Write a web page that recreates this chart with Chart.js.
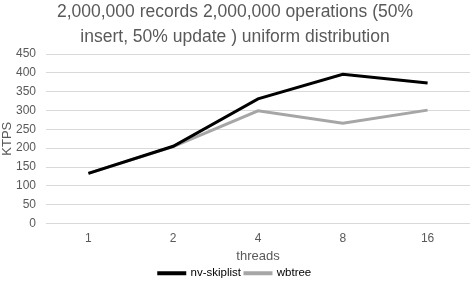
<!DOCTYPE html>
<html>
<head>
<meta charset="utf-8">
<script src="https://cdn.jsdelivr.net/npm/chart.js@4/dist/chart.umd.min.js"></script>
<style>
  html, body { margin: 0; padding: 0; background: #fff; }
  #wrap { width: 474px; height: 286px; }
</style>
</head>
<body>
<div id="wrap"><canvas id="myChart"></canvas></div>
<script>
var threads = ["1", "2", "4", "8", "16"];
var nvSkiplist = [133, 205, 331, 396, 373];
var wbtree = [133, 204, 299, 266, 301];
var yTicks = [0, 50, 100, 150, 200, 250, 300, 350, 400, 450];

var grey = "#595959";
var font = "'Liberation Sans', Arial, sans-serif";

var ctx = document.getElementById("myChart");
var myChart = new Chart(ctx, {
    type: 'line',
    data: {
        labels: threads,
        datasets: [{
                label: "nv-skiplist",
                borderColor: "#000000",
                backgroundColor: "#000000",
                borderWidth: 3,
                data: nvSkiplist,
                pointRadius: 0,
                tension: 0,
                fill: false
            }, {
                label: "wbtree",
                borderColor: "#a6a6a6",
                backgroundColor: "#a6a6a6",
                borderWidth: 3,
                data: wbtree,
                pointRadius: 0,
                tension: 0,
                fill: false
            }
        ]
    },
    options: {
        responsive: true,
        maintainAspectRatio: false,
        animation: false,
        layout: {padding: {left: 0, right: 4, top: 0, bottom: -3}},
        plugins: {
            title: {
                display: true,
                text: ['2,000,000 records 2,000,000 operations (50%', 'insert, 50% update ) uniform distribution'],
                color: grey,
                font: {family: font, size: 17.5, weight: 'normal', lineHeight: 1.4},
                padding: {top: 0, bottom: 5}
            },
            legend: {
                display: true,
                position: 'bottom',
                labels: {
                    color: "#000",
                    font: {family: font, size: 11.5},
                    boxWidth: 26,
                    boxHeight: 1,
                    padding: 4
                }
            },
            tooltip: {enabled: false}
        },
        scales: {
            x: {
                offset: true,
                afterFit: function (axis) { axis.height = 40; },
                grid: {display: false, drawTicks: false},
                border: {display: false},
                ticks: {color: grey, font: {family: font, size: 12}, padding: 8},
                title: {display: true, text: 'threads', color: grey, font: {family: font, size: 13}, padding: {top: 0, bottom: -1}}
            },
            y: {
                min: 0,
                max: 450,
                afterBuildTicks: function (axis) {
                    axis.ticks = yTicks.map(function (v) { return {value: v}; });
                },
                afterFit: function (axis) { axis.width = 46; },
                grid: {color: "#d9d9d9", drawTicks: false},
                border: {display: false},
                ticks: {color: grey, font: {family: font, size: 12}, padding: 10, autoSkip: false},
                title: {display: true, text: 'KTPS', color: grey, font: {family: font, size: 13}, padding: {top: 0, bottom: 1}}
            }
        }
    }
});
</script>
</body>
</html>
